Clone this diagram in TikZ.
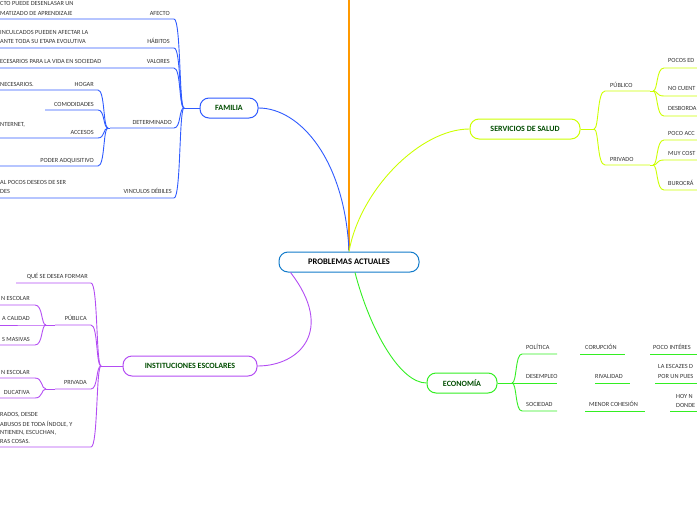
\documentclass[tikz,border=0pt]{standalone}
\usepackage{fontspec}
\setmainfont{Carlito}
\definecolor{cfam}{HTML}{2F5BFF}
\definecolor{cins}{HTML}{A020F0}
\definecolor{csal}{HTML}{CCFF00}
\definecolor{ceco}{HTML}{33EE22}
\definecolor{corg}{HTML}{FF9900}
\begin{document}
\begin{tikzpicture}[x=1pt,y=-1pt,
  lbl/.style={inner sep=0pt,font=\fontsize{6.3}{8}\selectfont,text=black!80,align=left},
  main/.style={draw,line width=1pt,rounded corners=9pt,minimum height=20pt,font=\bfseries\fontsize{8}{9}\selectfont,text=green!30!black},
  fam/.style={draw=cfam,line width=0.9pt},
  ins/.style={draw=cins!80,line width=0.9pt},
  sal/.style={draw=csal,line width=0.9pt},
  eco/.style={draw=ceco,line width=0.9pt}]
\useasboundingbox (0,0) rectangle (697,520);
\clip (0,0) rectangle (697,520);
% central
\draw[corg,line width=1.2pt] (349,0) -- (349,250);
\node[main,draw=cyan!60!blue,text=black,minimum width=140pt,font=\bfseries\fontsize{8.5}{10}\selectfont] (c) at (349,262) {PROBLEMAS ACTUALES};
\node[main,draw=cfam,minimum width=58pt] (fam) at (229,108) {FAMILIA};
\node[main,draw=cins!80,minimum width=134pt] (ins) at (190,366) {INSTITUCIONES ESCOLARES};
\node[main,draw=csal,minimum width=110pt] (sal) at (525,129) {SERVICIOS DE SALUD};
\node[main,draw=ceco,minimum width=70pt] (eco) at (462,383) {ECONOMÍA};
\draw[fam] (c.north) .. controls (345,160) and (300,108) .. (fam.east);
\draw[sal] (c.north) .. controls (360,190) and (420,129) .. (sal.west);
\draw[ins] (c.south west) ++(12,0) coordinate (ci) .. controls (335,330) and (300,366) .. (ins.east);
\draw[eco] (c.south) ++(6,0) coordinate (ce) .. controls (370,330) and (400,383) .. (eco.west);

% FAMILIA
\coordinate (fj) at (184,108);
\draw[fam] (fam.west) -- (fj);
\foreach \y/\a in {19/0,48/0,68/0,128/110,198/0}{\draw[fam] (fj) .. controls (179,108) and (181,\y) .. (174,\y) -- (\a,\y);}
\coordinate (dj) at (108,128);
\draw[fam] (110,128) -- (dj);
\foreach \y/\a in {90/0,110/45,138/0,166/0}{\draw[fam] (dj) .. controls (103,128) and (105,\y) .. (98,\y) -- (\a,\y);}
\node[lbl,anchor=base east] (f1) at (170,15) {AFECTO};
\node[lbl,anchor=base east] (f2) at (170,43) {HÁBITOS};
\node[lbl,anchor=base east] (f3) at (170,63) {VALORES};
\node[lbl,anchor=base east] (f4) at (172,124) {DETERMINADO};
\node[lbl,anchor=base east] (f5) at (172,193) {VINCULOS DÉBILES};
\node[lbl,anchor=base east] (f6) at (94,86) {HOGAR};
\node[lbl,anchor=base east] (f7) at (94,106) {COMODIDADES};
\node[lbl,anchor=base east] (f8) at (94,134) {ACCESOS};
\node[lbl,anchor=base east] (f9) at (94,162) {PODER ADQUISITIVO};
\node[lbl,anchor=base west] (t1) at (0,5) {CTO PUEDE DESENLASAR UN};
\node[lbl,anchor=base west] (t2) at (0,15) {MATIZADO DE APRENDIZAJE};
\node[lbl,anchor=base west] (t3) at (0,34) {INCULCADOS PUEDEN AFECTAR LA};
\node[lbl,anchor=base west] (t4) at (0,43) {ANTE TODA SU ETAPA EVOLUTIVA};
\node[lbl,anchor=base west] (t5) at (0,63) {ECESARIOS PARA LA VIDA EN SOCIEDAD};
\node[lbl,anchor=base west] (t6) at (0,86) {NECESARIOS.};
\node[lbl,anchor=base west] (t7) at (0,126) {NTERNET,};
\node[lbl,anchor=base west] (t8) at (0,184) {AL POCOS DESEOS DE SER};
\node[lbl,anchor=base west] (t9) at (0,193) {DES};

% INSTITUCIONES
\coordinate (ij) at (101,366);
\draw[ins] (ins.west) -- (ij);
\draw[ins] (ij) .. controls (96,366) and (98,283) .. (91,283) -- (16,283);
\draw[ins] (ij) .. controls (96,366) and (98,325) .. (91,325) -- (55,325);
\draw[ins] (ij) .. controls (96,366) and (98,389) .. (91,389) -- (55,389);
\draw[ins] (ij) .. controls (96,366) and (98,447) .. (91,447) -- (0,447);
\coordinate (pj) at (46,325);
\coordinate (qj) at (46,389);
\draw[ins] (55,325) -- (pj);
\draw[ins] (55,389) -- (qj);
\foreach \y in {305,325,345}{\draw[ins] (pj) .. controls (41,325) and (43,\y) .. (35,\y) -- (0,\y);}
\foreach \y in {378,398}{\draw[ins] (qj) .. controls (41,389) and (43,\y) .. (35,\y) -- (0,\y);}
\node[lbl,anchor=base east] (i1) at (88,278) {QUÉ SE DESEA FORMAR};
\node[lbl,anchor=base east] (i2) at (87,320) {PÚBLICA};
\node[lbl,anchor=base east] (i3) at (87,384) {PRIVADA};
\node[lbl,anchor=base east] (i4) at (30,300) {N ESCOLAR};
\node[lbl,anchor=base east] (i5) at (30,320) {A CALIDAD};
\node[lbl,anchor=base east] (i6) at (30,341) {S MASIVAS};
\node[lbl,anchor=base east] (i7) at (30,374) {N ESCOLAR};
\node[lbl,anchor=base east] (i8) at (30,394) {DUCATIVA};
\node[lbl,anchor=base west] (i9) at (0,416) {RADOS, DESDE};
\node[lbl,anchor=base west] (i10) at (0,426) {ABUSOS DE TODA ÍNDOLE, Y};
\node[lbl,anchor=base west] (i11) at (0,434) {NTIENEN, ESCUCHAN,};
\node[lbl,anchor=base west] (i12) at (0,443) {RAS COSAS.};

% SALUD
\coordinate (sj) at (594,129);
\draw[sal] (sal.east) -- (sj);
\draw[sal] (sj) .. controls (599,129) and (597,91) .. (605,91) -- (650,91);
\draw[sal] (sj) .. controls (599,129) and (597,165) .. (605,165) -- (650,165);
\coordinate (s1) at (653,91);
\coordinate (s2) at (653,165);
\draw[sal] (650,91) -- (s1);
\draw[sal] (650,165) -- (s2);
\foreach \y in {68,96,116}{\draw[sal] (s1) .. controls (658,91) and (656,\y) .. (664,\y) -- (697,\y);}
\foreach \y in {140,160,190}{\draw[sal] (s2) .. controls (658,165) and (656,\y) .. (664,\y) -- (697,\y);}
\node[lbl,anchor=base west] (h1) at (610,87) {PÚBLICO};
\node[lbl,anchor=base west] (h2) at (610,161) {PRIVADO};
\node[lbl,anchor=base west] (h3) at (668,62) {POCOS ED};
\node[lbl,anchor=base west] (h4) at (668,90) {NO CUENT};
\node[lbl,anchor=base west] (h5) at (668,110) {DESBORDA};
\node[lbl,anchor=base west] (h6) at (668,135) {POCO ACC};
\node[lbl,anchor=base west] (h7) at (668,155) {MUY COST};
\node[lbl,anchor=base west] (h8) at (668,185) {BUROCRÁ};

% ECONOMIA
\coordinate (ej) at (512,383);
\draw[eco] (eco.east) -- (ej);
\draw[eco] (ej) .. controls (517,383) and (515,354) .. (522,354) -- (557,354);
\draw[eco] (ej) -- (557,383);
\draw[eco] (ej) .. controls (517,383) and (515,411) .. (522,411) -- (557,411);
\draw[eco] (580,354) -- (625,354);
\draw[eco] (595,383) -- (630,383);
\draw[eco] (585,411) -- (645,411);
\draw[eco] (650,354) -- (697,354);
\draw[eco] (655,383) -- (697,383);
\draw[eco] (670,411) -- (697,411);
\node[lbl,anchor=base west] (e1) at (526,349) {POLÍTICA};
\node[lbl,anchor=base west] (e2) at (526,378) {DESEMPLEO};
\node[lbl,anchor=base west] (e3) at (526,406) {SOCIEDAD};
\node[lbl,anchor=base west] (e4) at (585,349) {CORUPCIÓN};
\node[lbl,anchor=base west] (e5) at (595,378) {RIVALIDAD};
\node[lbl,anchor=base west] (e6) at (589,406) {MENOR COHESIÓN};
\node[lbl,anchor=base west] (e7) at (653,349) {POCO INTÉRES};
\node[lbl,anchor=base west] (e8) at (658,368) {LA ESCAZES D};
\node[lbl,anchor=base west] (e9) at (658,378) {POR UN PUES};
\node[lbl,anchor=base west] (e10) at (676,398) {HOY N};
\node[lbl,anchor=base west] (e11) at (676,407) {DONDE};
\end{tikzpicture}
\end{document}
